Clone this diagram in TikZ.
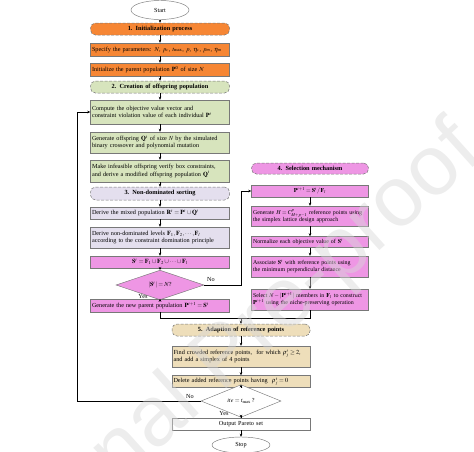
\documentclass[tikz,border=0pt]{standalone}
\usepackage{mathptmx}
\usepackage{fontspec}
\setmainfont{Liberation Serif}
\newfontfamily\wmfont{Liberation Sans}
\usetikzlibrary{shapes.geometric,arrows.meta}
\definecolor{orF}{RGB}{246,134,52}
\definecolor{grF}{RGB}{215,228,189}
\definecolor{lvF}{RGB}{228,223,238}
\definecolor{pkF}{RGB}{238,150,228}
\definecolor{tnF}{RGB}{238,222,186}
\definecolor{bd}{RGB}{120,120,120}
\definecolor{wmC}{RGB}{215,215,215}
\tikzset{
  txt/.style={font=\fontsize{6.2}{7.2}\selectfont},
  rtxt/.style={font=\fontsize{5.9}{7}\selectfont},
  box/.style={txt, draw=bd, line width=0.45pt, inner xsep=1.5pt, inner ysep=1pt, align=left},
  lbox/.style={box, text width=136pt},
  rbox/.style={box, rtxt, text width=114pt},
  bbox/.style={box, text width=135pt},
  ttl/.style={rounded corners=5pt, dashed, dash pattern=on 3pt off 1.5pt, draw=bd, line width=0.5pt,
     font=\bfseries\fontsize{6.3}{7.3}\selectfont, align=center, inner xsep=1.5pt, inner ysep=1pt},
  oval/.style={ellipse, draw=bd, line width=0.45pt, txt, inner sep=0pt},
  dia/.style={diamond, draw=bd, line width=0.45pt, txt, inner sep=0pt},
  arr/.style={-{Stealth[length=3pt,width=2.6pt]}, line width=0.45pt},
  ln/.style={line width=0.45pt},
  lab/.style={txt}
}
\begin{document}
\begin{tikzpicture}[x=1pt,y=-1pt]
\medmuskip=2.5mu \thickmuskip=3.5mu
\useasboundingbox (0,0) rectangle (474,451);
% left column
\node[oval, minimum width=58pt, minimum height=19pt] (start) at (160,10) {Start};
\node[ttl, fill=orF, text width=136pt, minimum height=12pt] (t1) at (160,29) {1. Initialization process};
\node[lbox, fill=orF, minimum height=13pt] (spec) at (160,49.5) {Specify the parameters: $N$, $p_c$, $t_{\max}$, $p$, $\eta_c$, $p_m$, $\eta_m$};
\node[lbox, fill=orF, minimum height=13pt] (init) at (160,69.5) {Initialize the parent population $\mathbf{P}^0$ of size $N$};
\node[ttl, fill=grF, text width=136pt, minimum height=12pt] (t2) at (160,87) {2. Creation of offspring population};
\node[lbox, fill=grF, minimum height=24pt] (comp) at (160,112) {Compute the objective value vector and\\constraint violation value of each individual $\mathbf{P}^t$};
\node[lbox, fill=grF, minimum height=21pt] (gen) at (160,142.5) {Generate offspring $\mathbf{Q}^t$ of size $N$ by the simulated\\binary crossover and polynomial mutation};
\node[lbox, fill=grF, minimum height=22pt] (make) at (160,171) {Make infeasible offspring verify box constraints,\\and derive a modified offspring population $\mathbf{Q}^t$};
\node[ttl, fill=lvF, text width=136pt, minimum height=13pt] (t3) at (160,193.5) {3. Non-dominated sorting};
\node[lbox, fill=lvF, minimum height=12pt] (mix) at (160,213) {Derive the mixed population $\mathbf{R}^t=\mathbf{P}^t\cup\mathbf{Q}^t$};
\node[lbox, fill=lvF, minimum height=21pt] (nond) at (160,237.5) {Derive non-dominated levels $\mathbf{F}_1,\mathbf{F}_2,\cdots,\mathbf{F}_l$\\according to the constraint domination principle};
\node[lbox, fill=pkF, minimum height=12pt, align=center] (st) at (160,262) {$\mathbf{S}^t=\mathbf{F}_1\cup\mathbf{F}_2\cup\cdots\cup\mathbf{F}_l$};
\node[dia, fill=pkF, minimum width=88pt, minimum height=18pt] (d1) at (160,285) {$|\mathbf{S}^t|=N$?};
\node[lbox, fill=pkF, minimum height=13pt] (newp) at (160,305.5) {Generate the new parent population $\mathbf{P}^{t+1}=\mathbf{S}^t$};
% right column
\node[ttl, fill=pkF, text width=114pt, minimum height=11pt] (t4) at (310,168.5) {4. Selection mechanism};
\node[rbox, fill=pkF, minimum height=12pt, align=center] (pst) at (310,191) {$\mathbf{P}^{t+1}=\mathbf{S}^t/\,\mathbf{F}_l$};
\node[rbox, fill=pkF, minimum height=20pt] (genh) at (310,216) {Generate $H=C^{p}_{M+p-1}$ reference points using\\the simplex lattice design approach};
\node[rbox, fill=pkF, minimum height=11pt] (norm) at (310,242) {Normalize each objective value of $\mathbf{S}^t$};
\node[rbox, fill=pkF, minimum height=21pt] (assoc) at (310,266.5) {Associate $\mathbf{S}^t$ with reference points using\\the minimum perpendicular distance};
\node[rbox, fill=pkF, minimum height=21pt] (sel) at (310,299.5) {Select $N-|\mathbf{P}^{t+1}|$ members in $\mathbf{F}_l$ to construct\\$\mathbf{P}^{t+1}$ using the niche-preserving operation};
% bottom column
\node[ttl, fill=tnF, text width=135pt, minimum height=12pt] (t5) at (241,330) {5. Adaption of reference points};
\node[bbox, fill=tnF, minimum height=21pt] (find) at (241,356.5) {Find crowded reference points,\ \ for which $\rho_j^t\ge 2$,\\and add a simplex of 4 points};
\node[bbox, fill=tnF, minimum height=12pt] (del) at (241,381.5) {Delete added reference points having\ \ $\rho_j^t=0$};
\node[dia, fill=white, minimum width=80pt, minimum height=14pt] (d2) at (241,401) {$ite=t_{\max}$\,?};
\node[bbox, fill=white, minimum height=12pt, align=center] (out) at (241,424) {Output Pareto set};
\node[oval, minimum width=58pt, minimum height=16pt] (stop) at (241,445) {Stop};
% helper coordinates
\coordinate (jl) at (160,318);
\coordinate (jr) at (310,318);
\coordinate (jm) at (241,318);
\coordinate (lu) at (77,112);
\coordinate (nr) at (241,191);
% connectors
\draw[arr] (start) -- (t1);
\draw[arr] (t1) -- (spec);
\draw[arr] (spec) -- (init);
\draw[arr] (init) -- (t2);
\draw[arr] (t2) -- (comp);
\draw[arr] (comp) -- (gen);
\draw[arr] (gen) -- (make);
\draw[arr] (make) -- (t3);
\draw[arr] (t3) -- (mix);
\draw[arr] (mix) -- (nond);
\draw[arr] (nond) -- (st);
\draw[arr] (st) -- (d1);
\draw[arr] (d1) -- (newp);
\draw[arr] (d1.east) -| (nr) -- (pst.west);
\draw[arr] (pst) -- (genh);
\draw[arr] (genh) -- (norm);
\draw[arr] (norm) -- (assoc);
\draw[arr] (assoc) -- (sel);
\draw[ln] (newp.south) -- (jl) -- (jr) -- (sel.south);
\draw[arr] (jm) -- (t5);
\draw[arr] (t5) -- (find);
\draw[arr] (find) -- (del);
\draw[arr] (del) -- (d2);
\draw[arr] (d2) -- (out);
\draw[arr] (out) -- (stop);
\draw[arr] (d2.west) -| (lu) -- (comp.west);
% labels
\node[lab] (no1) at (211,279) {No};
\node[lab] (yes1) at (143,296.5) {Yes};
\node[lab] (no2) at (190,396) {No};
\node[lab] (yes2) at (224,413) {Yes};
% watermark
\node[rotate=42, text=wmC, opacity=0.45, font=\wmfont\fontsize{85}{85}\selectfont] (wm) at (226,360) {Journal Pre-proof};
\end{tikzpicture}
\end{document}
